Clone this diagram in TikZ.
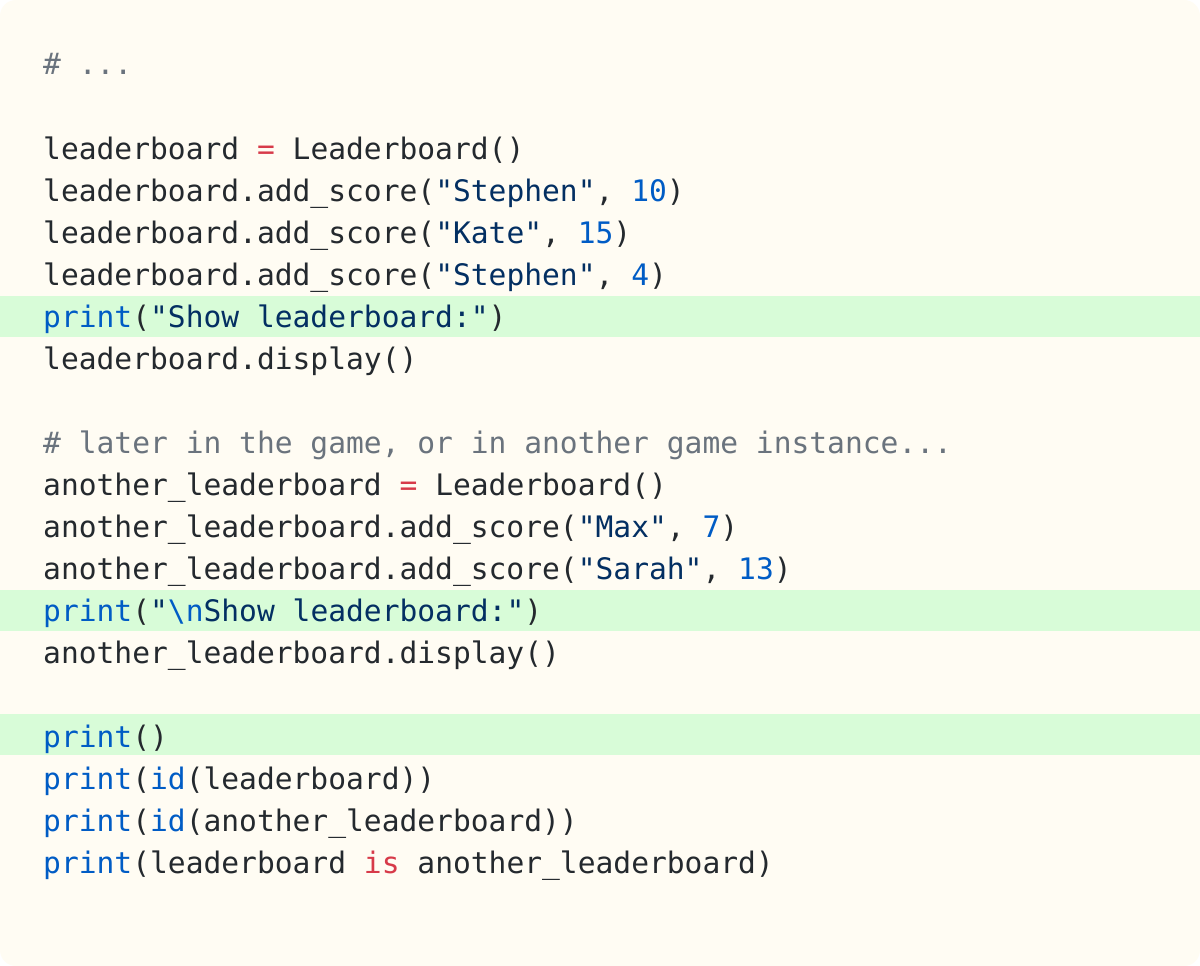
\documentclass[tikz,border=0pt]{standalone}
\usepackage{fontspec}
\newfontfamily\code{DejaVu Sans Mono}
\definecolor{bg}{HTML}{FFFCF3}
\definecolor{hl}{HTML}{D8FCD8}
\definecolor{tx}{HTML}{24292E}
\definecolor{kw}{HTML}{005CC5}
\definecolor{st}{HTML}{032F62}
\definecolor{op}{HTML}{D73A49}
\definecolor{cm}{HTML}{6A737D}
\newcommand{\cK}[1]{\textcolor{kw}{#1}}
\newcommand{\cS}[1]{\textcolor{st}{#1}}
\newcommand{\cR}[1]{\textcolor{op}{#1}}
\newcommand{\cC}[1]{\textcolor{cm}{#1}}
\begin{document}
\begin{tikzpicture}[x=1pt,y=-1pt,
  ln/.style={anchor=base west,inner sep=0pt,text=tx,font=\code\fontsize{29.6}{30}\selectfont}]
\fill[white] (0,0) rectangle (1200,966);
\useasboundingbox (0,0) rectangle (1200,966);
\fill[bg,rounded corners=16pt] (0,0) rectangle (1200,966);
\foreach \y in {296,590,714}{\fill[hl] (0,\y) rectangle (1200,\y+41);}
\node[ln] (l1) at (43,75) {\cC{\# ...}};
\node[ln] (l2) at (43,159) {leaderboard \cR{=} Leaderboard()};
\node[ln] (l3) at (43,201) {leaderboard.add\_score(\cS{"Stephen"}, \cK{10})};
\node[ln] (l4) at (43,243) {leaderboard.add\_score(\cS{"Kate"}, \cK{15})};
\node[ln] (l5) at (43,285) {leaderboard.add\_score(\cS{"Stephen"}, \cK{4})};
\node[ln] (l6) at (43,327) {\cK{print}(\cS{"Show leaderboard:"})};
\node[ln] (l7) at (43,369) {leaderboard.display()};
\node[ln] (l8) at (43,453) {\cC{\# later in the game, or in another game instance...}};
\node[ln] (l9) at (43,495) {another\_leaderboard \cR{=} Leaderboard()};
\node[ln] (l10) at (43,537) {another\_leaderboard.add\_score(\cS{"Max"}, \cK{7})};
\node[ln] (l11) at (43,579) {another\_leaderboard.add\_score(\cS{"Sarah"}, \cK{13})};
\node[ln] (l12) at (43,621) {\cK{print}(\cS{"}\cK{\textbackslash n}\cS{Show leaderboard:"})};
\node[ln] (l13) at (43,663) {another\_leaderboard.display()};
\node[ln] (l14) at (43,747) {\cK{print}()};
\node[ln] (l15) at (43,789) {\cK{print}(\cK{id}(leaderboard))};
\node[ln] (l16) at (43,831) {\cK{print}(\cK{id}(another\_leaderboard))};
\node[ln] (l17) at (43,873) {\cK{print}(leaderboard \cR{is} another\_leaderboard)};
\end{tikzpicture}
\end{document}
